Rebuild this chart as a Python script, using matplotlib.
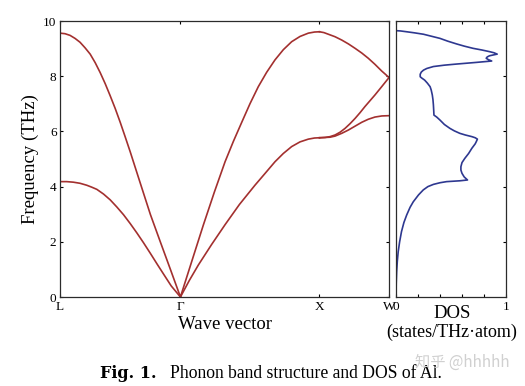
"""
    Phonon band structure and DOS of Al
"""

import numpy as np
import matplotlib as mpl
import matplotlib.pyplot as plt

mpl.rcParams["font.family"] = "Liberation Serif"
mpl.rcParams["xtick.direction"] = "in"
mpl.rcParams["ytick.direction"] = "in"
mpl.rcParams["xtick.major.size"] = 2.5
mpl.rcParams["ytick.major.size"] = 2.5
mpl.rcParams["axes.linewidth"] = 0.9
mpl.rcParams["axes.edgecolor"] = "#2b2b2b"

#########################################################
# Data
#########################################################

# high symmetry points along the path (units of 2pi/a)
sym_labels = ["L", "\u0393", "X", "W"]
sym_k = [0.0, 0.866, 1.866, 2.366]

# L -> Gamma
la_lg_k = [0.0, 0.036, 0.072, 0.108, 0.144, 0.180, 0.217, 0.253, 0.289, 0.325,
           0.361, 0.397, 0.433, 0.469, 0.505, 0.577, 0.650, 0.722, 0.794, 0.866]
la_lg_f = [9.56, 9.54, 9.48, 9.37, 9.23, 9.03, 8.80, 8.49, 8.13, 7.73,
           7.29, 6.83, 6.33, 5.80, 5.26, 4.13, 2.99, 1.99, 1.00, 0.0]
ta_lg_k = [0.0, 0.048, 0.096, 0.144, 0.192, 0.228, 0.265, 0.313, 0.361, 0.409,
           0.457, 0.505, 0.553, 0.600, 0.650, 0.700, 0.746, 0.800, 0.866]
ta_lg_f = [4.18, 4.18, 4.16, 4.12, 4.05, 3.98, 3.90, 3.73, 3.52, 3.26,
           2.98, 2.66, 2.32, 1.97, 1.58, 1.18, 0.82, 0.40, 0.0]

# Gamma -> X
la_gx_k = [0.866, 0.950, 1.031, 1.110, 1.187, 1.247, 1.307, 1.366, 1.426,
           1.486, 1.546, 1.606, 1.666, 1.726, 1.786, 1.830, 1.866]
la_gx_f = [0.0, 1.33, 2.61, 3.80, 4.90, 5.64, 6.33, 7.00, 7.62,
           8.14, 8.59, 8.96, 9.25, 9.44, 9.56, 9.60, 9.61]
ta_gx_k = [0.866, 0.930, 0.995, 1.090, 1.187, 1.290, 1.402, 1.470, 1.546,
           1.606, 1.666, 1.726, 1.786, 1.830, 1.866]
ta_gx_f = [0.0, 0.60, 1.16, 1.90, 2.62, 3.35, 4.05, 4.45, 4.90,
           5.20, 5.45, 5.62, 5.72, 5.76, 5.77]

# X -> W
b3_xw_k = [1.866, 1.898, 1.930, 1.978, 2.026, 2.074, 2.122, 2.170, 2.217,
           2.265, 2.313, 2.340, 2.366]
b3_xw_f = [9.61, 9.58, 9.52, 9.43, 9.31, 9.17, 9.01, 8.84, 8.65,
           8.43, 8.19, 8.07, 7.95]
b2_xw_k = [1.866, 1.906, 1.942, 1.978, 2.014, 2.050, 2.086, 2.122, 2.158,
           2.193, 2.229, 2.265, 2.315, 2.366]
b2_xw_f = [5.77, 5.78, 5.81, 5.87, 5.97, 6.11, 6.28, 6.47, 6.68,
           6.90, 7.11, 7.32, 7.63, 7.95]
b1_xw_k = [1.866, 1.906, 1.942, 1.978, 2.026, 2.074, 2.122, 2.170, 2.217,
           2.265, 2.315, 2.366]
b1_xw_f = [5.77, 5.78, 5.79, 5.83, 5.93, 6.05, 6.19, 6.33, 6.44,
           6.52, 6.56, 6.57]

# phonon DOS (states/THz atom)
dos_f = [0.0, 0.5, 0.92, 1.3, 1.64, 2.0, 2.37, 2.7, 2.97, 3.25, 3.45, 3.7,
         3.88, 4.0, 4.08, 4.14, 4.18, 4.21, 4.24,
         4.35, 4.48, 4.6, 4.72, 4.87, 5.02, 5.2, 5.39, 5.55, 5.63, 5.72,
         5.77, 5.81, 5.87, 5.93, 6.02, 6.11, 6.25, 6.41, 6.52, 6.59,
         6.75, 6.96, 7.15, 7.32, 7.5, 7.62, 7.75, 7.86, 7.93, 7.98,
         8.07, 8.15, 8.22, 8.28, 8.35, 8.40, 8.44, 8.50, 8.55,
         8.60, 8.65, 8.70, 8.74, 8.80, 8.85, 8.89, 8.95, 9.01, 9.09,
         9.17, 9.27, 9.37, 9.45, 9.52, 9.57, 9.61, 9.64, 9.65]
dos_v = [0.0, 0.002, 0.006, 0.012, 0.02, 0.033, 0.05, 0.072, 0.097, 0.128, 0.157, 0.205,
         0.248, 0.29, 0.34, 0.40, 0.46, 0.58, 0.65,
         0.62, 0.60, 0.59, 0.59, 0.60, 0.625, 0.66, 0.69, 0.72, 0.73, 0.74,
         0.72, 0.69, 0.63, 0.58, 0.53, 0.49, 0.44, 0.40, 0.37, 0.345,
         0.343, 0.34, 0.336, 0.33, 0.32, 0.31, 0.285, 0.26, 0.235, 0.22,
         0.22, 0.23, 0.25, 0.28, 0.34, 0.44, 0.55, 0.73, 0.87,
         0.84, 0.82, 0.83, 0.85, 0.92, 0.89, 0.85, 0.78, 0.70, 0.62,
         0.55, 0.47, 0.40, 0.32, 0.25, 0.17, 0.097, 0.04, 0.0]

dos_ticks = [0.0, 0.2, 0.4, 0.6, 0.8, 1.0]
dos_ticklabels = ["0", "", "", "", "", "1"]
freq_ticks = [0, 2, 4, 6, 8, 10]

band_color = "#a3302f"
dos_color = "#2e3890"

#########################################################
# Plot
#########################################################

fig = plt.figure(figsize=(5.25, 3.86), dpi=100)

ax = fig.add_axes([60 / 525, 1 - 297 / 386, 329 / 525, 276 / 386])
ax2 = fig.add_axes([396 / 525, 1 - 297 / 386, 110 / 525, 276 / 386])

branches = [
    (la_lg_k, la_lg_f), (ta_lg_k, ta_lg_f),
    (la_gx_k, la_gx_f), (ta_gx_k, ta_gx_f),
    (b3_xw_k, b3_xw_f), (b2_xw_k, b2_xw_f), (b1_xw_k, b1_xw_f),
]
for k, f in branches:
    ax.plot(k, f, color=band_color, lw=1.2, solid_joinstyle="round")

ax.set_xlim(sym_k[0], sym_k[-1])
ax.set_ylim(0, 10)
ax.set_xticks(sym_k)
ax.set_xticklabels(sym_labels, fontsize=9.5)
ax.set_yticks(freq_ticks)
ax.set_yticklabels([str(t) for t in freq_ticks], fontsize=9.5)
ax.tick_params(top=True, right=True, pad=2.5)
ax.tick_params(axis="x", pad=3)
ax.set_xlabel("Wave vector", fontsize=13.5, labelpad=2)
ax.set_ylabel("Frequency (THz)", fontsize=13.5, labelpad=3)

ax2.plot(dos_v, dos_f, color=dos_color, lw=1.2, solid_joinstyle="round")
ax2.set_xlim(0, 1)
ax2.set_ylim(0, 10)
ax2.set_xticks(dos_ticks)
ax2.set_xticklabels(dos_ticklabels, fontsize=9.5)
ax2.set_yticks(freq_ticks[1:-1])
ax2.set_yticklabels([])
ax2.tick_params(top=True, right=True, left=False, pad=3)

# DOS axis title, two lines
fig.text(452 / 525, 1 - 314 / 386, "DOS", fontsize=13.5, ha="center", va="center")
fig.text(452 / 525, 1 - 332 / 386, "(states/THz\u00b7atom)", fontsize=13,
         ha="center", va="center")

# caption
fig.text(100 / 525, 1 - 373 / 386, "Fig. 1.", fontsize=11.5, fontweight="bold",
         family="DejaVu Serif", va="center", ha="left")
fig.text(170 / 525, 1 - 373 / 386, "Phonon band structure and DOS of Al.",
         fontsize=12.7, va="center", ha="left")
fig.text(415 / 525, 1 - 362 / 386, "知乎 @hhhhh", fontsize=11, color="#d0d0d0",
         va="center", ha="left", family=["Noto Sans CJK SC", "DejaVu Sans"])

plt.savefig("out.png", dpi=100)
